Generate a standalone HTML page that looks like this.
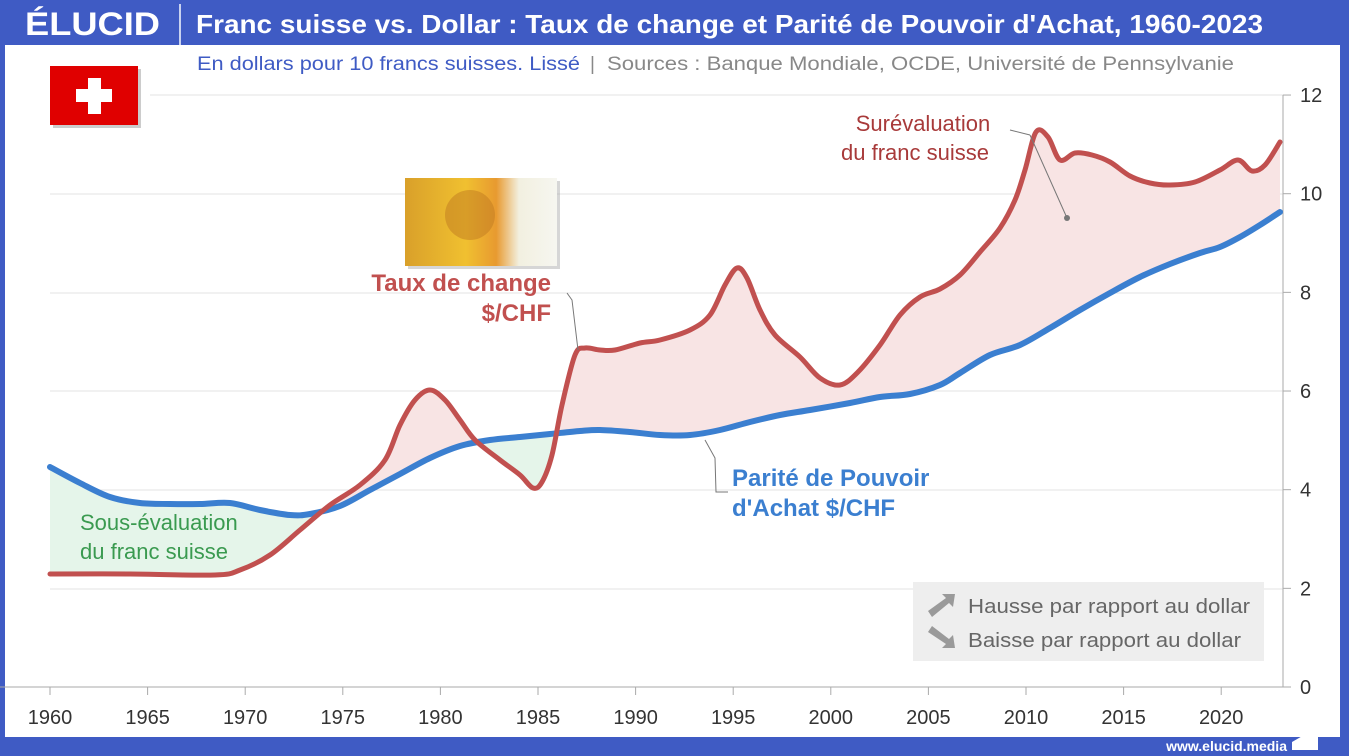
<!DOCTYPE html>
<html><head><meta charset="utf-8"><style>
body{margin:0;width:1349px;height:756px;overflow:hidden;background:#3f5bc4;font-family:"Liberation Sans",sans-serif}
</style></head><body>
<svg width="1349" height="756" xmlns="http://www.w3.org/2000/svg" font-family="Liberation Sans, sans-serif" style="display:block">
<rect x="0" y="0" width="1349" height="756" fill="#3f5bc4"/>
<rect x="5" y="45" width="1335" height="692" fill="#fff"/>
<line x1="180" y1="4" x2="180" y2="45" stroke="#c9d2f0" stroke-width="2"/>
<text x="25" y="35" fill="#fff" font-size="32" font-weight="bold" textLength="135" lengthAdjust="spacingAndGlyphs">ÉLUCID</text>
<text x="196" y="33" fill="#fff" font-size="26" font-weight="bold" textLength="1067" lengthAdjust="spacingAndGlyphs">Franc suisse vs. Dollar : Taux de change et Parité de Pouvoir d'Achat, 1960-2023</text>
<text x="197" y="70" font-size="19" fill="#3f5bc4" textLength="383" lengthAdjust="spacingAndGlyphs">En dollars pour 10 francs suisses. Lissé</text>
<text x="590" y="70" font-size="19" fill="#888">|</text>
<text x="607" y="70" font-size="19" fill="#888" textLength="627" lengthAdjust="spacingAndGlyphs">Sources : Banque Mondiale, OCDE, Université de Pennsylvanie</text>
<text x="1287" y="751" fill="#fff" font-size="14" font-weight="bold" text-anchor="end">www.elucid.media</text>
<polygon points="1292,742 1318,727 1318,750 1292,750" fill="#fff"/>
<!-- grid -->
<g stroke="#e3e3e3" stroke-width="1">
<line x1="150" y1="95" x2="1283" y2="95"/>
<line x1="50" y1="194" x2="1283" y2="194"/>
<line x1="50" y1="293" x2="1283" y2="293"/>
<line x1="50" y1="391" x2="1283" y2="391"/>
<line x1="50" y1="490" x2="1283" y2="490"/>
<line x1="50" y1="589" x2="1283" y2="589"/>
</g>
<defs>
<clipPath id="above"><path id="cpa"/></clipPath>
<clipPath id="below"><path id="cpb"/></clipPath>
</defs>
<path id="fillP" fill="#f8e4e4" clip-path="url(#above)"/>
<path id="fillG" fill="#e5f5ea" clip-path="url(#below)"/>
<line x1="0" y1="687" x2="1283" y2="687" stroke="#aaa"/>
<line x1="1283" y1="95" x2="1283" y2="687" stroke="#aaa"/>
<g stroke="#aaa" id="ticks"></g>
<g font-size="20" fill="#333" id="labels"></g>
<path id="blue" fill="none" stroke="#3b7fd0" stroke-width="6" stroke-linecap="round"/>
<path id="red" fill="none" stroke="#c1504f" stroke-width="5" stroke-linecap="round"/>
<rect x="53" y="69" width="88" height="59" fill="#999" opacity="0.5"/>
<rect x="50" y="66" width="88" height="59" fill="#e00000"/>
<rect x="88" y="78" width="13" height="36" fill="#fff"/>
<rect x="76" y="89" width="36" height="13" fill="#fff"/>
<defs><linearGradient id="bn" x1="0" x2="1" y1="0" y2="0"><stop offset="0" stop-color="#d9a02a"/><stop offset="0.4" stop-color="#f0c030"/><stop offset="0.6" stop-color="#e89a30"/><stop offset="0.75" stop-color="#f2f0e0"/><stop offset="1" stop-color="#f6f6f0"/></linearGradient></defs>
<rect x="408" y="181" width="152" height="88" fill="#999" opacity="0.4"/>
<rect x="405" y="178" width="152" height="88" fill="url(#bn)"/>
<circle cx="470" cy="215" r="25" fill="#c07a20" opacity="0.5"/>
<text font-size="22" fill="#a83a3a" text-anchor="middle"><tspan x="923" y="131">Surévaluation</tspan><tspan x="915" y="160">du franc suisse</tspan></text>
<line x1="1010" y1="130" x2="1030" y2="135" stroke="#777"/><line x1="1030" y1="135" x2="1067" y2="218" stroke="#777"/><circle cx="1067" cy="218" r="3" fill="#777"/>
<text font-size="24" font-weight="bold" fill="#c1504f" text-anchor="end"><tspan x="551" y="291">Taux de change</tspan><tspan x="551" y="321">$/CHF</tspan></text>
<polyline points="567,293 572,300 578,350" fill="none" stroke="#777"/>
<text font-size="24" font-weight="bold" fill="#3b7fd0"><tspan x="732" y="486">Parité de Pouvoir</tspan><tspan x="732" y="516">d'Achat $/CHF</tspan></text>
<polyline points="705,440 715,458 716,492 728,492" fill="none" stroke="#777"/>
<text font-size="22" fill="#3a9a50"><tspan x="80" y="530">Sous-évaluation</tspan><tspan x="80" y="559">du franc suisse</tspan></text>
<rect x="913" y="582" width="351" height="79" fill="#eeeeee"/>
<g fill="#9a9a9a">
<polygon points="928,611 946,598 942,594 955,594 953,607 949,603 932,617"/>
<polygon points="928,632 932,626 949,639 953,635 955,648 942,648 946,644"/>
</g>
<text x="968" y="613" font-size="20" fill="#666" textLength="282" lengthAdjust="spacingAndGlyphs">Hausse par rapport au dollar</text>
<text x="968" y="647" font-size="20" fill="#666" textLength="273" lengthAdjust="spacingAndGlyphs">Baisse par rapport au dollar</text>
</svg>
<script>
function sm(p){let d="M"+p[0][0]+","+p[0][1];for(let i=0;i<p.length-1;i++){const a=p[i-1]||p[i],b=p[i],c=p[i+1],e=p[i+2]||c;d+=" C"+(b[0]+(c[0]-a[0])/6)+","+(b[1]+(c[1]-a[1])/6)+" "+(c[0]-(e[0]-b[0])/6)+","+(c[1]-(e[1]-b[1])/6)+" "+c[0]+","+c[1];}return d;}
const R=[[50,574],[130,574],[215,575],[240,570],[270,555],[300,530],[330,505],[360,485],[385,460],[400,425],[415,400],[430,390],[445,400],[460,420],[475,440],[500,460],[520,475],[533,488],[542,482],[552,455],[562,405],[575,355],[585,348],[600,350],[615,350],[640,343],[660,340],[690,330],[710,315],[725,285],[737,268],[747,278],[760,310],[775,335],[800,357],[820,378],[840,385],[858,372],[880,345],[900,315],[920,297],[940,289],[960,275],[980,252],[1000,228],[1015,200],[1025,170],[1036,132],[1048,137],[1060,160],[1075,153],[1092,155],[1110,162],[1130,176],[1150,183],[1170,185],[1195,182],[1220,170],[1238,160],[1252,171],[1265,165],[1280,142]];
const B=[[50,467],[80,483],[110,497],[140,503],[170,504],[200,504],[230,503],[260,510],[290,515],[310,514],[340,506],[370,490],[400,474],[430,458],[460,446],[490,440],[520,437],[550,434],[580,431],[600,430],[630,432],[660,435],[690,435],[720,430],[750,422],[780,415],[810,410],[850,403],[880,397],[910,394],[940,385],[960,373],[990,355],[1020,345],[1050,328],[1080,310],[1110,293],[1140,277],[1170,264],[1200,253],[1220,247],[1240,237],[1260,225],[1280,212]];
const r=sm(R),b=sm(B);
document.getElementById("red").setAttribute("d",r);
document.getElementById("blue").setAttribute("d",b);
const br=sm(B.slice().reverse());
const poly=r+" L1280,212 "+br.replace(/^M/," L")+" Z";
document.getElementById("fillP").setAttribute("d",poly);
document.getElementById("fillG").setAttribute("d",poly);
document.getElementById("cpa").setAttribute("d",b+" L1290,0 L40,0 Z");
document.getElementById("cpb").setAttribute("d",b+" L1290,700 L40,700 Z");
const t=document.getElementById("ticks"),l=document.getElementById("labels"),NS="http://www.w3.org/2000/svg";
for(let y=1960;y<=2020;y+=5){const x=50+19.52*(y-1960);const ln=document.createElementNS(NS,"line");ln.setAttribute("x1",x);ln.setAttribute("x2",x);ln.setAttribute("y1",687);ln.setAttribute("y2",695);t.appendChild(ln);
const tx=document.createElementNS(NS,"text");tx.setAttribute("x",x);tx.setAttribute("y",724);tx.setAttribute("text-anchor","middle");tx.textContent=y;l.appendChild(tx);}
for(let v=0;v<=12;v+=2){const y=687-49.33*v;const ln=document.createElementNS(NS,"line");ln.setAttribute("x1",1283);ln.setAttribute("x2",1291);ln.setAttribute("y1",y);ln.setAttribute("y2",y);t.appendChild(ln);
const tx=document.createElementNS(NS,"text");tx.setAttribute("x",1300);tx.setAttribute("y",y+7);tx.textContent=v;l.appendChild(tx);}
</script>
</body></html>
